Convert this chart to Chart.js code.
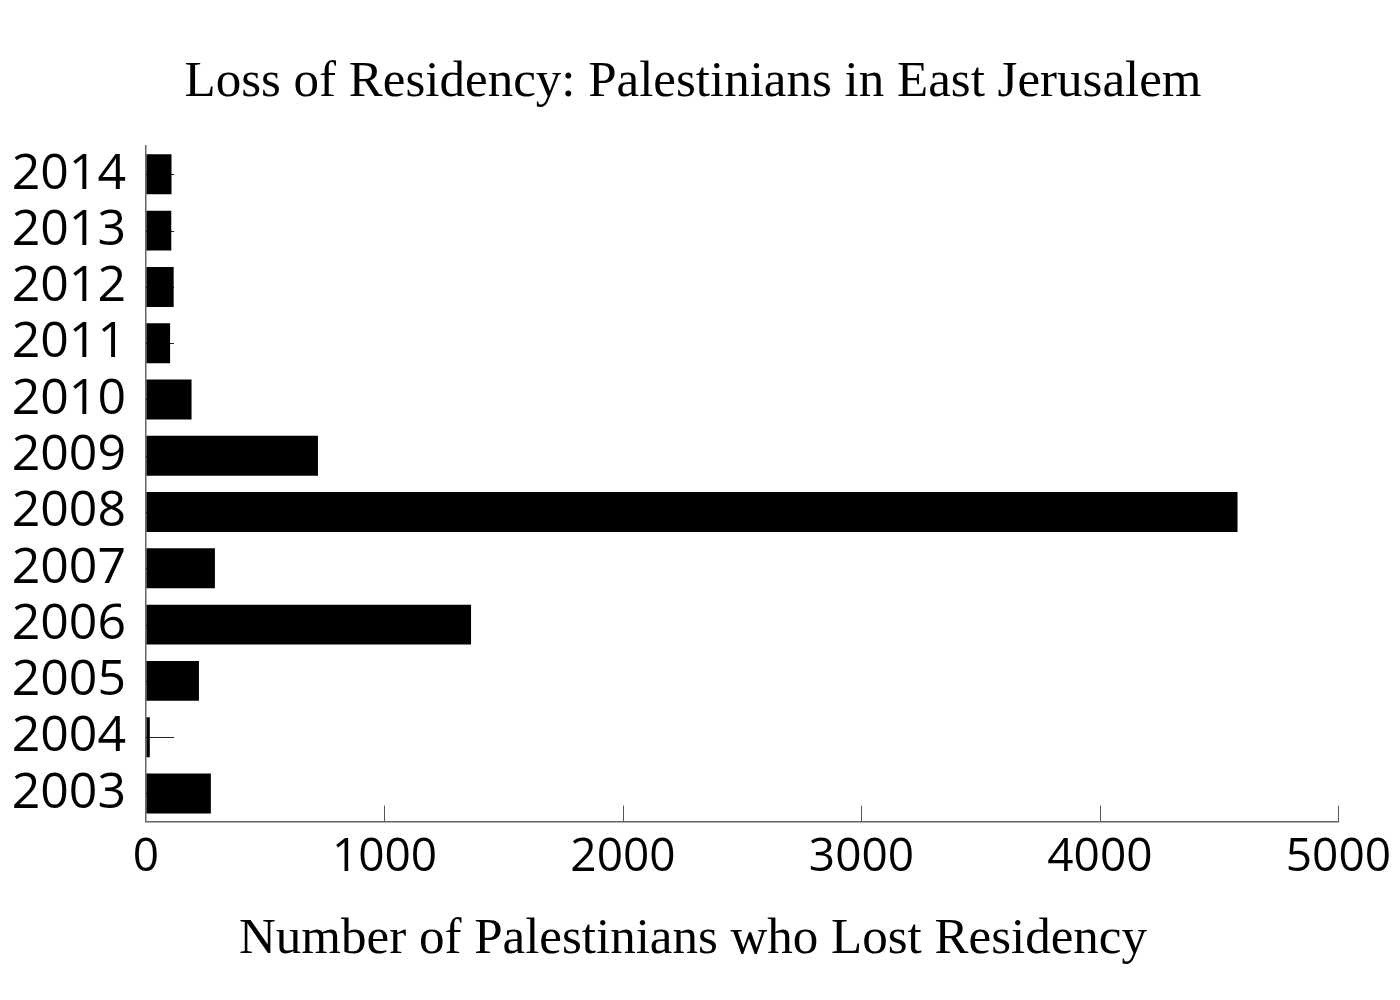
<!DOCTYPE html>
<html>
<head>
<meta charset="utf-8">
<script src="https://cdn.jsdelivr.net/npm/chart.js@4/dist/chart.umd.min.js"></script>
<style>
  html, body { margin: 0; padding: 0; background: #fff; }
  #wrap { width: 1400px; height: 1000px; }
</style>
</head>
<body>
<div id="wrap"><canvas id="c" width="1400" height="1000"></canvas></div>
<script>
const years = ['2003','2004','2005','2006','2007','2008','2009','2010','2011','2012','2013','2014'];
const residencyLost = [272, 16, 222, 1363, 289, 4577, 721, 191, 101, 116, 106, 107];
const xTicks = [0, 1000, 2000, 3000, 4000, 5000];
const chartTitle = 'Loss of Residency: Palestinians in East Jerusalem';
const xTitle = 'Number of Palestinians who Lost Residency';

const innerTicks = {
  id: 'innerTicks',
  beforeDatasetsDraw(chart) {
    const ctx = chart.ctx;
    const x = chart.scales.x, y = chart.scales.y;
    const area = chart.chartArea;
    ctx.save();
    ctx.lineWidth = 1;
    ctx.strokeStyle = '#555';
    xTicks.forEach(v => {
      if (v === 0) return;
      const px = Math.round(x.getPixelForValue(v)) + 0.5;
      ctx.beginPath();
      ctx.moveTo(px, area.bottom);
      ctx.lineTo(px, area.bottom - 16);
      ctx.stroke();
    });
    ctx.strokeStyle = '#222';
    years.forEach((lab, i) => {
      const py = Math.round(y.getPixelForValue(i)) + 0.5;
      ctx.beginPath();
      ctx.moveTo(area.left, py);
      ctx.lineTo(area.left + 28, py);
      ctx.stroke();
    });
    ctx.restore();
  }
};

new Chart(document.getElementById('c'), {
  type: 'bar',
  data: {
    labels: years,
    datasets: [{
      data: residencyLost,
      backgroundColor: '#000',
      borderWidth: 0,
      categoryPercentage: 1.0,
      barPercentage: 0.71
    }]
  },
  plugins: [innerTicks],
  options: {
    indexAxis: 'y',
    responsive: false,
    animation: false,
    layout: { padding: { left: 0, right: 14, top: 0, bottom: 0 } },
    plugins: {
      legend: { display: false },
      tooltip: { enabled: false },
      title: {
        display: true,
        text: chartTitle,
        color: '#000',
        font: { family: 'Liberation Serif', size: 51, weight: 'normal' },
        padding: { top: 52, bottom: 33 }
      },
      subtitle: {
        display: true,
        position: 'bottom',
        text: xTitle,
        color: '#000',
        font: { family: 'Liberation Serif', size: 51, weight: 'normal' },
        padding: { top: 14, bottom: 30 }
      }
    },
    scales: {
      x: {
        type: 'linear',
        min: 0,
        max: 5000,
        ticks: {
          stepSize: 1000,
          color: '#000',
          font: { family: 'Open Sans', size: 46 },
          padding: 9,
          maxRotation: 0,
          callback: v => String(v)
        },
        grid: { display: true, drawOnChartArea: false, drawTicks: false },
        border: { display: true, color: '#666', width: 1.5 }
      },
      y: {
        type: 'category',
        reverse: true,
        afterFit: s => { s.width = 146; },
        ticks: {
          color: '#000',
          font: { family: 'Open Sans', size: 50 },
          padding: 20,
          autoSkip: false
        },
        grid: { display: true, drawOnChartArea: false, drawTicks: false },
        border: { display: true, color: '#666', width: 1.5 }
      },
      yPad: {
        type: 'category',
        position: 'right',
        display: true,
        afterFit: s => { s.width = 47; },
        ticks: { display: false },
        grid: { display: false, drawTicks: false },
        border: { display: false }
      }
    }
  }
});
</script>
</body>
</html>
